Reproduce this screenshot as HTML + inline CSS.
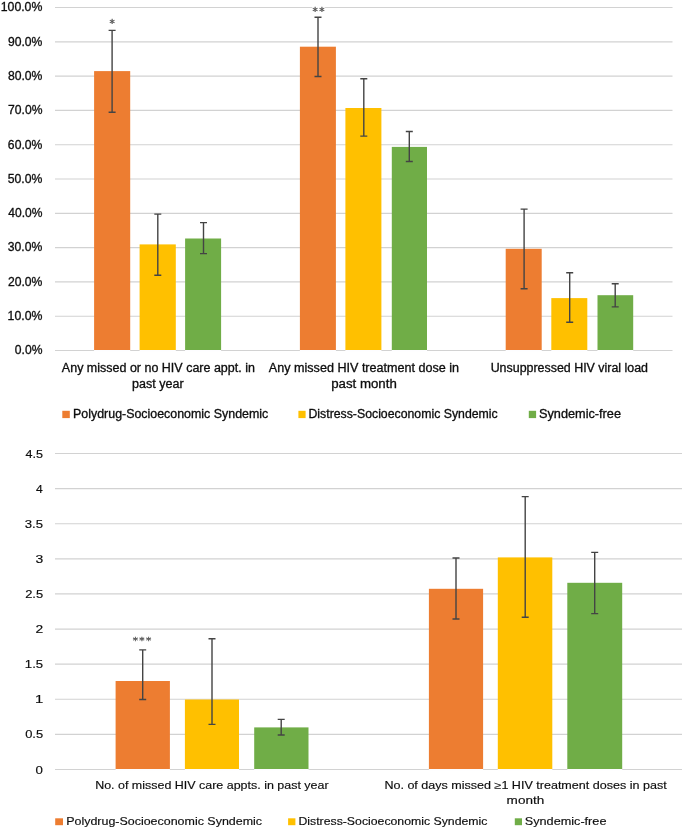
<!DOCTYPE html>
<html lang="en">
<head>
<meta charset="utf-8">
<title>Figure</title>
<style>
html,body{margin:0;padding:0;background:#fff;}
body{width:685px;height:829px;overflow:hidden;}
svg{display:block;}
svg text{font-family:"Liberation Sans",Arial,sans-serif;fill:#0d0d0d;stroke:#0d0d0d;stroke-width:0.3px;}
svg g.b text{stroke-width:0.15px;}
svg g text.st{font-family:"DejaVu Sans","Liberation Sans",sans-serif;fill:#555;stroke:#555;stroke-width:0.35px;}
</style>
</head>
<body>
<svg width="685" height="829" viewBox="0 0 685 829">
<rect x="0" y="0" width="685" height="829" fill="#ffffff"/>
<g id="chart-top">
<line x1="55" y1="7.50" x2="672.5" y2="7.50" stroke="#D2D2D2" stroke-width="1.15"/>
<line x1="55" y1="41.80" x2="672.5" y2="41.80" stroke="#D2D2D2" stroke-width="1.15"/>
<line x1="55" y1="76.10" x2="672.5" y2="76.10" stroke="#D2D2D2" stroke-width="1.15"/>
<line x1="55" y1="110.40" x2="672.5" y2="110.40" stroke="#D2D2D2" stroke-width="1.15"/>
<line x1="55" y1="144.70" x2="672.5" y2="144.70" stroke="#D2D2D2" stroke-width="1.15"/>
<line x1="55" y1="179.00" x2="672.5" y2="179.00" stroke="#D2D2D2" stroke-width="1.15"/>
<line x1="55" y1="213.30" x2="672.5" y2="213.30" stroke="#D2D2D2" stroke-width="1.15"/>
<line x1="55" y1="247.60" x2="672.5" y2="247.60" stroke="#D2D2D2" stroke-width="1.15"/>
<line x1="55" y1="281.90" x2="672.5" y2="281.90" stroke="#D2D2D2" stroke-width="1.15"/>
<line x1="55" y1="316.20" x2="672.5" y2="316.20" stroke="#D2D2D2" stroke-width="1.15"/>
<line x1="55" y1="350.50" x2="672.5" y2="350.50" stroke="#D2D2D2" stroke-width="1.15"/>
<text x="0.75" y="11.35" font-size="12.00" textLength="41.60" lengthAdjust="spacingAndGlyphs">100.0%</text>
<text x="7.93" y="45.65" font-size="12.00" textLength="34.43" lengthAdjust="spacingAndGlyphs">90.0%</text>
<text x="7.95" y="79.95" font-size="12.00" textLength="34.49" lengthAdjust="spacingAndGlyphs">80.0%</text>
<text x="8.05" y="114.25" font-size="12.00" textLength="34.38" lengthAdjust="spacingAndGlyphs">70.0%</text>
<text x="7.89" y="148.55" font-size="12.00" textLength="34.46" lengthAdjust="spacingAndGlyphs">60.0%</text>
<text x="7.81" y="182.85" font-size="12.00" textLength="34.60" lengthAdjust="spacingAndGlyphs">50.0%</text>
<text x="8.25" y="217.15" font-size="12.00" textLength="34.15" lengthAdjust="spacingAndGlyphs">40.0%</text>
<text x="7.80" y="251.45" font-size="12.00" textLength="34.50" lengthAdjust="spacingAndGlyphs">30.0%</text>
<text x="7.90" y="285.75" font-size="12.00" textLength="34.51" lengthAdjust="spacingAndGlyphs">20.0%</text>
<text x="7.62" y="320.05" font-size="12.00" textLength="34.79" lengthAdjust="spacingAndGlyphs">10.0%</text>
<text x="14.86" y="354.35" font-size="12.00" textLength="27.59" lengthAdjust="spacingAndGlyphs">0.0%</text>
<rect x="94.10" y="350.00" width="36.10" height="1.4" fill="#fdfdff"/>
<rect x="94.10" y="71.10" width="36.10" height="278.90" fill="#ED7D31"/>
<rect x="139.60" y="350.00" width="36.20" height="1.4" fill="#fdfdff"/>
<rect x="139.60" y="244.40" width="36.20" height="105.60" fill="#FFC000"/>
<rect x="185.10" y="350.00" width="36.00" height="1.4" fill="#fdfdff"/>
<rect x="185.10" y="238.50" width="36.00" height="111.50" fill="#70AD47"/>
<rect x="299.90" y="350.00" width="36.00" height="1.4" fill="#fdfdff"/>
<rect x="299.90" y="46.70" width="36.00" height="303.30" fill="#ED7D31"/>
<rect x="345.40" y="350.00" width="36.00" height="1.4" fill="#fdfdff"/>
<rect x="345.40" y="108.00" width="36.00" height="242.00" fill="#FFC000"/>
<rect x="391.80" y="350.00" width="35.20" height="1.4" fill="#fdfdff"/>
<rect x="391.80" y="146.90" width="35.20" height="203.10" fill="#70AD47"/>
<rect x="505.70" y="350.00" width="36.00" height="1.4" fill="#fdfdff"/>
<rect x="505.70" y="248.80" width="36.00" height="101.20" fill="#ED7D31"/>
<rect x="551.30" y="350.00" width="36.00" height="1.4" fill="#fdfdff"/>
<rect x="551.30" y="298.10" width="36.00" height="51.90" fill="#FFC000"/>
<rect x="597.50" y="350.00" width="35.70" height="1.4" fill="#fdfdff"/>
<rect x="597.50" y="295.20" width="35.70" height="54.80" fill="#70AD47"/>
<path d="M112.10 30.40V112.30M108.60 30.40H115.60M108.60 112.30H115.60" stroke="#444444" stroke-width="1.40" fill="none"/>
<path d="M157.80 214.10V275.20M154.30 214.10H161.30M154.30 275.20H161.30" stroke="#444444" stroke-width="1.40" fill="none"/>
<path d="M203.50 222.60V253.60M200.00 222.60H207.00M200.00 253.60H207.00" stroke="#444444" stroke-width="1.40" fill="none"/>
<path d="M318.00 17.20V76.50M314.50 17.20H321.50M314.50 76.50H321.50" stroke="#444444" stroke-width="1.40" fill="none"/>
<path d="M363.80 78.80V136.10M360.30 78.80H367.30M360.30 136.10H367.30" stroke="#444444" stroke-width="1.40" fill="none"/>
<path d="M409.30 131.50V161.50M405.80 131.50H412.80M405.80 161.50H412.80" stroke="#444444" stroke-width="1.40" fill="none"/>
<path d="M524.10 209.10V288.80M520.60 209.10H527.60M520.60 288.80H527.60" stroke="#444444" stroke-width="1.40" fill="none"/>
<path d="M569.70 272.70V322.30M566.20 272.70H573.20M566.20 322.30H573.20" stroke="#444444" stroke-width="1.40" fill="none"/>
<path d="M615.20 283.80V306.90M611.70 283.80H618.70M611.70 306.90H618.70" stroke="#444444" stroke-width="1.40" fill="none"/>
<rect x="312.3" y="4" width="12.4" height="9.5" fill="#fff"/>
<text class="st" x="109.55" y="27.07" font-size="10.6">*</text>
<text class="st" x="312.45" y="14.66" font-size="10.6">*</text>
<text class="st" x="319.15" y="14.66" font-size="10.6">*</text>
<text x="61.86" y="372.00" font-size="12.00" textLength="193.05" lengthAdjust="spacingAndGlyphs">Any missed or no HIV care appt. in</text>
<text x="132.07" y="388.40" font-size="12.00" textLength="51.50" lengthAdjust="spacingAndGlyphs">past year</text>
<text x="268.86" y="372.00" font-size="12.00" textLength="190.27" lengthAdjust="spacingAndGlyphs">Any missed HIV treatment dose in</text>
<text x="331.20" y="388.40" font-size="12.00" textLength="65.60" lengthAdjust="spacingAndGlyphs">past month</text>
<text x="490.65" y="372.00" font-size="12.00" textLength="157.39" lengthAdjust="spacingAndGlyphs">Unsuppressed HIV viral load</text>
<rect x="62.30" y="410.80" width="7.50" height="7.30" fill="#ED7D31"/>
<rect x="298.40" y="410.80" width="7.20" height="7.30" fill="#FFC000"/>
<rect x="528.80" y="410.80" width="7.30" height="7.30" fill="#70AD47"/>
<text x="73.06" y="418.30" font-size="12.00" textLength="195.23" lengthAdjust="spacingAndGlyphs">Polydrug-Socioeconomic Syndemic</text>
<text x="308.49" y="418.30" font-size="12.00" textLength="189.21" lengthAdjust="spacingAndGlyphs">Distress-Socioeconomic Syndemic</text>
<text x="539.04" y="418.30" font-size="12.00" textLength="81.98" lengthAdjust="spacingAndGlyphs">Syndemic-free</text>
</g>
<g id="chart-bottom" class="b">
<line x1="55" y1="453.50" x2="682" y2="453.50" stroke="#D2D2D2" stroke-width="1.15"/>
<line x1="55" y1="488.61" x2="682" y2="488.61" stroke="#D2D2D2" stroke-width="1.15"/>
<line x1="55" y1="523.72" x2="682" y2="523.72" stroke="#D2D2D2" stroke-width="1.15"/>
<line x1="55" y1="558.83" x2="682" y2="558.83" stroke="#D2D2D2" stroke-width="1.15"/>
<line x1="55" y1="593.94" x2="682" y2="593.94" stroke="#D2D2D2" stroke-width="1.15"/>
<line x1="55" y1="629.06" x2="682" y2="629.06" stroke="#D2D2D2" stroke-width="1.15"/>
<line x1="55" y1="664.17" x2="682" y2="664.17" stroke="#D2D2D2" stroke-width="1.15"/>
<line x1="55" y1="699.28" x2="682" y2="699.28" stroke="#D2D2D2" stroke-width="1.15"/>
<line x1="55" y1="734.39" x2="682" y2="734.39" stroke="#D2D2D2" stroke-width="1.15"/>
<line x1="55" y1="769.50" x2="682" y2="769.50" stroke="#D2D2D2" stroke-width="1.15"/>
<text x="25.51" y="457.60" font-size="10.20" textLength="17.50" lengthAdjust="spacingAndGlyphs">4.5</text>
<text x="36.01" y="492.71" font-size="10.20" textLength="6.72" lengthAdjust="spacingAndGlyphs">4</text>
<text x="24.77" y="527.82" font-size="10.20" textLength="18.26" lengthAdjust="spacingAndGlyphs">3.5</text>
<text x="35.47" y="562.93" font-size="10.20" textLength="7.74" lengthAdjust="spacingAndGlyphs">3</text>
<text x="25.17" y="598.04" font-size="10.20" textLength="17.97" lengthAdjust="spacingAndGlyphs">2.5</text>
<text x="35.53" y="633.16" font-size="10.20" textLength="7.68" lengthAdjust="spacingAndGlyphs">2</text>
<text x="24.87" y="668.27" font-size="10.20" textLength="18.27" lengthAdjust="spacingAndGlyphs">1.5</text>
<text x="34.98" y="703.38" font-size="10.20" textLength="8.24" lengthAdjust="spacingAndGlyphs">1</text>
<text x="25.20" y="738.49" font-size="10.20" textLength="17.95" lengthAdjust="spacingAndGlyphs">0.5</text>
<text x="35.62" y="773.60" font-size="10.20" textLength="7.37" lengthAdjust="spacingAndGlyphs">0</text>
<rect x="115.60" y="769.00" width="54.30" height="1.4" fill="#fdfdff"/>
<rect x="115.60" y="681.00" width="54.30" height="88.00" fill="#ED7D31"/>
<rect x="184.90" y="769.00" width="54.10" height="1.4" fill="#fdfdff"/>
<rect x="184.90" y="699.50" width="54.10" height="69.50" fill="#FFC000"/>
<rect x="254.20" y="769.00" width="54.30" height="1.4" fill="#fdfdff"/>
<rect x="254.20" y="727.40" width="54.30" height="41.60" fill="#70AD47"/>
<rect x="428.90" y="769.00" width="54.20" height="1.4" fill="#fdfdff"/>
<rect x="428.90" y="588.80" width="54.20" height="180.20" fill="#ED7D31"/>
<rect x="497.80" y="769.00" width="54.50" height="1.4" fill="#fdfdff"/>
<rect x="497.80" y="557.40" width="54.50" height="211.60" fill="#FFC000"/>
<rect x="567.30" y="769.00" width="54.90" height="1.4" fill="#fdfdff"/>
<rect x="567.30" y="582.80" width="54.90" height="186.20" fill="#70AD47"/>
<path d="M142.70 649.90V699.50M139.20 649.90H146.20M139.20 699.50H146.20" stroke="#444444" stroke-width="1.40" fill="none"/>
<path d="M212.00 638.80V724.40M208.50 638.80H215.50M208.50 724.40H215.50" stroke="#444444" stroke-width="1.40" fill="none"/>
<path d="M281.20 719.40V735.00M277.70 719.40H284.70M277.70 735.00H284.70" stroke="#444444" stroke-width="1.40" fill="none"/>
<path d="M456.00 558.00V619.00M452.50 558.00H459.50M452.50 619.00H459.50" stroke="#444444" stroke-width="1.40" fill="none"/>
<path d="M525.20 496.60V617.30M521.70 496.60H528.70M521.70 617.30H528.70" stroke="#444444" stroke-width="1.40" fill="none"/>
<path d="M594.70 552.40V613.60M591.20 552.40H598.20M591.20 613.60H598.20" stroke="#444444" stroke-width="1.40" fill="none"/>
<text class="st" transform="translate(132.65 643.60) scale(1 0.880)" font-size="10.6">*</text>
<text class="st" transform="translate(139.30 643.60) scale(1 0.880)" font-size="10.6">*</text>
<text class="st" transform="translate(146.00 643.60) scale(1 0.880)" font-size="10.6">*</text>
<text x="95.17" y="789.20" font-size="10.40" textLength="233.41" lengthAdjust="spacingAndGlyphs">No. of missed HIV care appts. in past year</text>
<text x="384.40" y="789.30" font-size="10.40" textLength="282.25" lengthAdjust="spacingAndGlyphs">No. of days missed ≥1 HIV treatment doses in past</text>
<text x="506.63" y="803.60" font-size="10.40" textLength="37.60" lengthAdjust="spacingAndGlyphs">month</text>
<rect x="55.20" y="818.30" width="7.80" height="6.90" fill="#ED7D31"/>
<rect x="288.10" y="818.30" width="7.30" height="6.90" fill="#FFC000"/>
<rect x="514.80" y="818.30" width="7.20" height="6.90" fill="#70AD47"/>
<text x="66.17" y="825.00" font-size="10.40" textLength="195.89" lengthAdjust="spacingAndGlyphs">Polydrug-Socioeconomic Syndemic</text>
<text x="298.45" y="825.00" font-size="10.40" textLength="189.01" lengthAdjust="spacingAndGlyphs">Distress-Socioeconomic Syndemic</text>
<text x="524.79" y="825.00" font-size="10.40" textLength="81.66" lengthAdjust="spacingAndGlyphs">Syndemic-free</text>
</g>
</svg>
</body>
</html>
